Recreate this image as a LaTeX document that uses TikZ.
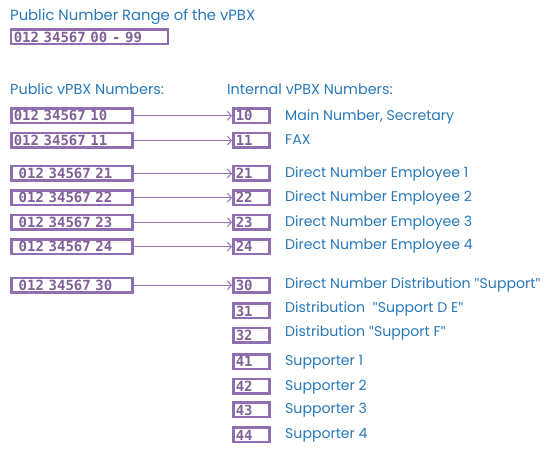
\documentclass[tikz,border=0pt]{standalone}
\usepackage{fontspec}
\setmainfont{Poppins}
\newfontfamily\monof{DejaVu Sans Mono}
\newfontfamily\quotef{Lato}
\newcommand{\sq}{{\quotef"}}
\usetikzlibrary{arrows.meta}
\definecolor{boxc}{RGB}{145,110,178}
\definecolor{numc}{RGB}{128,96,152}
\definecolor{arrc}{RGB}{150,118,182}
\definecolor{lblc}{RGB}{40,120,184}
\tikzset{
  numbox/.style={draw=boxc, line width=2.5pt, anchor=west, minimum height=14.5pt,
    inner ysep=0pt, align=left, text=numc,
    font=\monof\bfseries\fontsize{14}{15}\selectfont},
  pubA/.style={numbox, inner xsep=2.5pt, text width=116pt},
  pubB/.style={numbox, inner xsep=7.5pt, text width=106pt},
  topbox/.style={numbox, inner xsep=3pt, text width=151pt},
  intbox/.style={numbox, inner xsep=2.5pt, text width=31pt},
  lbl/.style={anchor=base west, inner sep=0pt, text=lblc, font=\fontsize{14.1}{16}\selectfont},
  hdr/.style={lbl, font=\fontsize{14.4}{16}\selectfont},
  conn/.style={draw=arrc, line width=1pt, -{Straight Barb[length=4pt,width=9pt]}}
}
\begin{document}
\begin{tikzpicture}[x=1pt,y=-1pt]
\useasboundingbox (0,0) rectangle (550,454);
% headers
\node[hdr, font=\fontsize{14.8}{16}\selectfont] (h1) at (10,20.5) {Public Number Range of the vPBX};
\node[topbox] (range) at (9.5,37) {012 34567 00 - 99};
\node[hdr] (h2) at (10,95) {Public vPBX Numbers:};
\node[hdr] (h3) at (227,95) {Internal vPBX Numbers:};
% public numbers
\node[pubA] (p10) at (10,115.8) {012 34567 10};
\node[pubA] (p11) at (10,140.5) {012 34567 11};
\node[pubB] (p21) at (10,173.5) {012 34567 21};
\node[pubB] (p22) at (10,197.7) {012 34567 22};
\node[pubB] (p23) at (10,222.3) {012 34567 23};
\node[pubB] (p24) at (10,246.7) {012 34567 24};
\node[pubB] (p30) at (10,285.3) {012 34567 30};
% internal numbers
\node[intbox] (i10) at (232,115.8) {10};
\node[intbox] (i11) at (232,140.5) {11};
\node[intbox] (i21) at (232,173.5) {21};
\node[intbox] (i22) at (232,197.7) {22};
\node[intbox] (i23) at (232,222.3) {23};
\node[intbox] (i24) at (232,246.7) {24};
\node[intbox] (i30) at (232,285.3) {30};
\node[intbox] (i31) at (232,311) {31};
\node[intbox] (i32) at (232,335.5) {32};
\node[intbox] (i41) at (232,361.7) {41};
\node[intbox] (i42) at (232,386.2) {42};
\node[intbox] (i43) at (232,410) {43};
\node[intbox] (i44) at (232,435) {44};
% labels
\node[lbl] (l10) at (285,120.7) {Main Number, Secretary};
\node[lbl] (l11) at (285,145) {FAX};
\node[lbl] (l21) at (285,177.3) {Direct Number Employee 1};
\node[lbl] (l22) at (285,201.7) {Direct Number Employee 2};
\node[lbl] (l23) at (285,226.2) {Direct Number Employee 3};
\node[lbl] (l24) at (285,250) {Direct Number Employee 4};
\node[lbl] (l30) at (285,288.3) {Direct Number Distribution \sq Support\sq};
\node[lbl] (l31) at (285,312.7) {Distribution\ \ \sq Support D E\sq};
\node[lbl] (l32) at (285,336.7) {Distribution \sq Support F\sq};
\node[lbl] (l41) at (285,366) {Supporter 1};
\node[lbl] (l42) at (285,390.7) {Supporter 2};
\node[lbl] (l43) at (285,414) {Supporter 3};
\node[lbl] (l44) at (285,439) {Supporter 4};
% connectors
\foreach \n in {10,11,21,22,23,24,30}
  \draw[conn] (p\n.east) -- (i\n.west);
\end{tikzpicture}
\end{document}
